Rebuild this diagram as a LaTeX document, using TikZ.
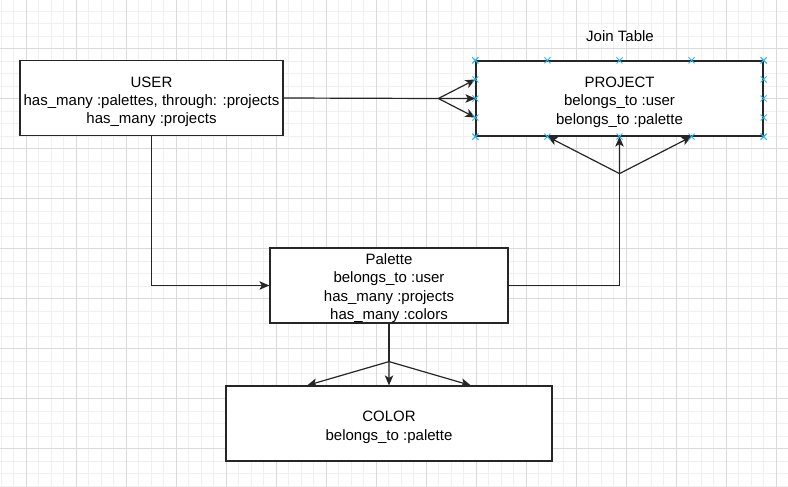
\documentclass[tikz,border=0pt]{standalone}
\usepackage{fontspec}
\setmainfont{Liberation Sans}
\usetikzlibrary{arrows.meta,calc}
\definecolor{gridminor}{HTML}{F0F0F0}
\definecolor{gridmajor}{HTML}{DADADA}
\definecolor{selblue}{HTML}{29B6F2}
\definecolor{edge}{HTML}{262626}
\newcommand{\hdstrut}[1][18pt]{\rule{0pt}{#1}}

\begin{document}
\begin{tikzpicture}[x=1pt,y=-1pt,
  font=\fontsize{15}{18.3}\selectfont,>={Stealth[length=10pt,width=8.5pt,inset=2.5pt]},
  ent/.style={draw=edge, line width=1.2pt, fill=white, align=center, inner sep=1pt, minimum height=75pt},
  minor/.style={draw=gridminor, line width=1pt},
  major/.style={draw=gridmajor, line width=1pt},
  link/.style={draw=edge, line width=1.2pt},
  arr/.style={->, draw=edge, line width=1.2pt},
  selx/.style={draw=selblue, line width=0.9pt},
]
\useasboundingbox[fill=white] (0,0) rectangle (788,487);

% background grid
\foreach \i in {0,...,62} {\draw[minor] ({1.3+12.5*\i},0) -- ++(0,487);}
\foreach \i in {0,...,38} {\draw[minor] (0,{11.2+12.5*\i}) -- ++(788,0);}
\foreach \i in {0,...,15} {\draw[major] ({26.3+50*\i},0) -- ++(0,487);}
\foreach \i in {0,...,9} {\draw[major] (0,{-1.3+50*\i}) -- ++(788,0);}

\node[ent,minimum width=263pt] (user) at (151.5,98) {\hdstrut USER\\has\_many :palettes, through: :projects\\has\_many :projects};
\node[ent,minimum width=287pt] (project) at (619.5,98.5) {\hdstrut PROJECT\\belongs\_to :user\\belongs\_to :palette};
\node (jtlabel) at (620,36) {Join Table};
\node[ent,minimum width=238pt,inner ysep=0pt] (palette) at (389,285.5) {\hdstrut[16pt]Palette\\belongs\_to :user\\has\_many :projects\\has\_many :colors};
\node[ent,minimum width=326pt] (color) at (389,423.5) {\hdstrut COLOR\\belongs\_to :palette};

% user -> project
\coordinate (ufork) at ($(project.west)+(-37,0)$);
\draw[link] (user.east) -- (ufork);
\foreach \f in {0.25,0.5,0.75} {\draw[arr] (ufork) -- ($(project.north west)!\f!(project.south west)$);}
% user -> palette
\draw[arr] (user.south) |- (palette.west);
% palette -> project
\coordinate (pfork) at ($(project.south)+(0,37)$);
\draw[link] (palette.east) -| (pfork);
\foreach \f in {0.25,0.5,0.75} {\draw[arr] (pfork) -- ($(project.south west)!\f!(project.south east)$);}
% palette -> color
\coordinate (cfork) at ($(palette.south)+(0,38)$);
\draw[link] (palette.south) -- (cfork);
\foreach \f in {0.25,0.5,0.75} {\draw[arr] (cfork) -- ($(color.north west)!\f!(color.north east)$);}

% selection marks on the join table
\foreach \f in {0,0.25,0.5,0.75,1} {
  \draw[selx] ($(project.north west)!\f!(project.north east)$) ++(-3,-3) -- ++(6,6) ++(-6,0) -- ++(6,-6);
  \draw[selx] ($(project.south west)!\f!(project.south east)$) ++(-3,-3) -- ++(6,6) ++(-6,0) -- ++(6,-6);
  \draw[selx] ($(project.north west)!\f!(project.south west)$) ++(-3,-3) -- ++(6,6) ++(-6,0) -- ++(6,-6);
  \draw[selx] ($(project.north east)!\f!(project.south east)$) ++(-3,-3) -- ++(6,6) ++(-6,0) -- ++(6,-6);
}
\end{tikzpicture}
\end{document}
